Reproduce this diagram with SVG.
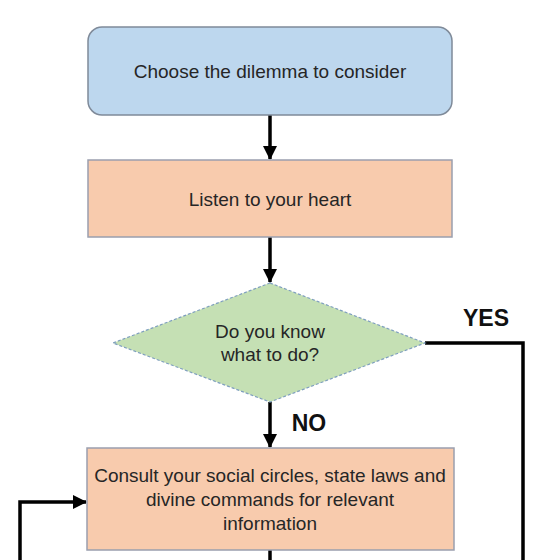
<svg xmlns="http://www.w3.org/2000/svg" width="560" height="560" viewBox="0 0 560 560">
<style>
.t{font-family:"Liberation Sans",Arial,sans-serif;font-size:19px;fill:#262626;text-anchor:middle}
.lbl{font-family:"Liberation Sans",Arial,sans-serif;font-size:23px;font-weight:bold;fill:#111;text-anchor:middle}
.c{fill:none;stroke:#000;stroke-width:3.5}
</style>
<defs>
<marker id="ah" markerUnits="userSpaceOnUse" markerWidth="14" markerHeight="14" viewBox="0 0 14 14" refX="13" refY="7" orient="auto">
<path d="M0,0 L14,7 L0,14 z" fill="#000"/>
</marker>
</defs>
<rect width="560" height="560" fill="#fff"/>
<g id="connectors">
<line class="c" x1="270" y1="115" x2="270" y2="159" marker-end="url(#ah)"/>
<line class="c" x1="270" y1="237" x2="270" y2="282" marker-end="url(#ah)"/>
<line class="c" x1="270" y1="402" x2="270" y2="447" marker-end="url(#ah)"/>
<polyline class="c" points="425,343 523,343 523,560"/>
<polyline class="c" points="20,560 20,502 86,502" marker-end="url(#ah)"/>
<line class="c" x1="270" y1="550" x2="270" y2="560"/>
<text class="lbl" x="486" y="326">YES</text>
<text class="lbl" x="309" y="431">NO</text>
</g>
<g id="n1">
<rect x="88" y="27" width="364" height="88" rx="14" fill="#bdd7ee" stroke="#7f8a99" stroke-width="1.5"/>
<text class="t" x="270" y="78">Choose the dilemma to consider</text>
</g>
<g id="n2">
<rect x="88" y="160" width="364" height="77" fill="#f8cbad" stroke="#9a9fae" stroke-width="1.5"/>
<text class="t" x="270" y="206">Listen to your heart</text>
</g>
<g id="n3">
<polygon points="270,283 425,343 270,402 113,343" fill="#c5e0b4" stroke="#7f9fbf" stroke-width="1.2" stroke-dasharray="3,2"/>
<text class="t" x="270" y="338">Do you know</text>
<text class="t" x="270" y="361">what to do?</text>
</g>
<g id="n4">
<rect x="87" y="448" width="367" height="102" fill="#f8cbad" stroke="#9a9fae" stroke-width="1.5"/>
<text class="t" x="270" y="482">Consult your social circles, state laws and</text>
<text class="t" x="270" y="506">divine commands for relevant</text>
<text class="t" x="270" y="530">information</text>
</g>
</svg>
